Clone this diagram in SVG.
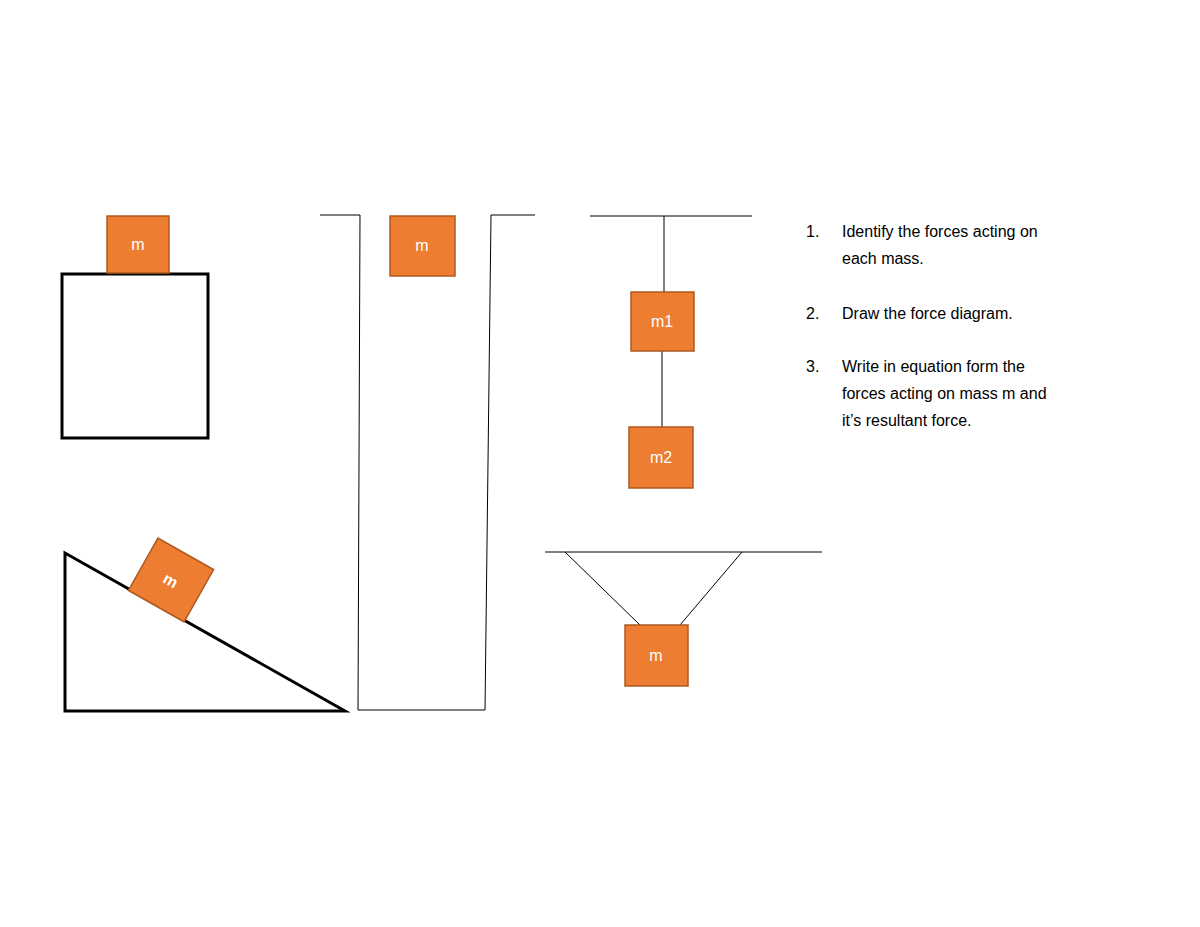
<svg xmlns="http://www.w3.org/2000/svg" width="1200" height="927" viewBox="0 0 1200 927">
<style>
.blk{fill:#ed7d31;stroke:#ae5a21;stroke-width:1.5}
.bt{fill:#fff;font-family:"Liberation Sans",sans-serif;font-size:16px;text-anchor:middle}
.ln{stroke:#000;stroke-width:1;fill:none}
.th{stroke:#000;stroke-width:3;fill:#fff}
.tx{font-family:"Liberation Sans",sans-serif;font-size:16px;fill:#000}
</style>
<rect width="1200" height="927" fill="#fff"/>
<g id="box-scene">
<rect class="th" x="62" y="274" width="146" height="164"/>
<rect class="blk" x="107" y="216" width="62" height="57"/>
<text class="bt" x="138" y="250">m</text>
</g>
<g id="incline-scene">
<polygon class="th" points="65,553 65,711 345,711"/>
<g transform="translate(171,580) rotate(29.5)">
<rect class="blk" x="-32" y="-30" width="64" height="60"/>
<text class="bt" x="0" y="6" font-weight="bold">m</text>
</g>
</g>
<g id="shaft-scene">
<polyline class="ln" points="320,215 360,215 358,710 485,710 491,215 535,215"/>
<rect class="blk" x="390" y="216" width="65" height="60"/>
<text class="bt" x="422" y="251">m</text>
</g>
<g id="connectors">
<line class="ln" x1="590" y1="216" x2="752" y2="216"/>
<line class="ln" x1="664" y1="216" x2="664" y2="292"/>
<line class="ln" x1="662" y1="351" x2="662" y2="427"/>
<line class="ln" x1="545" y1="552" x2="822" y2="552"/>
<line class="ln" x1="565" y1="552" x2="640" y2="625"/>
<line class="ln" x1="742" y1="552" x2="680" y2="625"/>
</g>
<g id="m1"><rect class="blk" x="631" y="292" width="63" height="59"/><text class="bt" x="662" y="327">m1</text></g>
<g id="m2"><rect class="blk" x="629" y="427" width="64" height="61"/><text class="bt" x="661" y="463">m2</text></g>
<g id="m-hang"><rect class="blk" x="625" y="625" width="63" height="61"/><text class="bt" x="656" y="661">m</text></g>
<g id="instructions" class="tx">
<text x="806" y="237">1.</text><text x="842" y="237">Identify the forces acting on</text>
<text x="842" y="264">each mass.</text>
<text x="806" y="319">2.</text><text x="842" y="319">Draw the force diagram.</text>
<text x="806" y="372">3.</text><text x="842" y="372">Write in equation form the</text>
<text x="842" y="399">forces acting on mass m and</text>
<text x="842" y="426">it’s resultant force.</text>
</g>
</svg>
